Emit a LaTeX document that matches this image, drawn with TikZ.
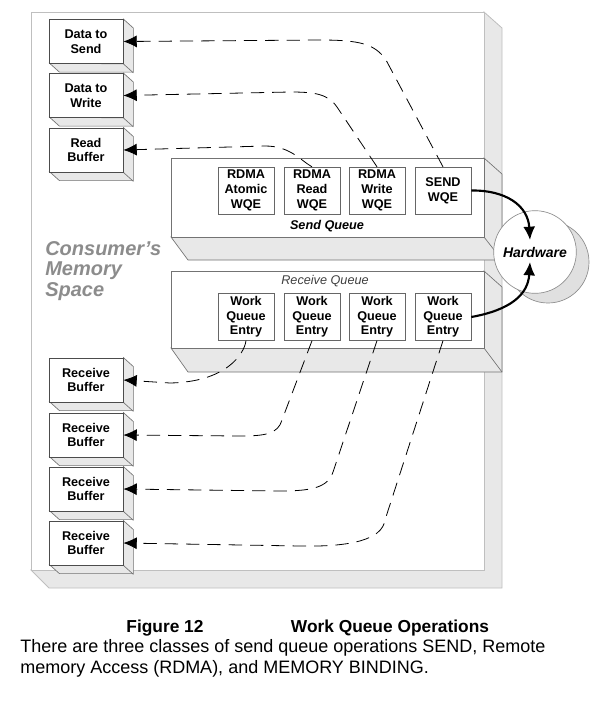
\documentclass[tikz,border=0pt]{standalone}
\usepackage{fontspec}
\setmainfont{Liberation Sans}
\usetikzlibrary{arrows.meta}
\begin{document}
\begin{tikzpicture}[x=0.75pt,y=-0.75pt,
  ext/.style={fill=black!9,draw=black!55,line width=0.5pt},
  extl/.style={fill=black!9,draw=black!25,line width=0.6pt},
  buf/.style={draw=black!70,fill=white,line width=0.6pt,minimum width=55.5pt,minimum height=33pt,inner sep=0pt,align=center,font=\bfseries\fontsize{9.5}{11}\selectfont},
  wqe/.style={draw=black!60,fill=white,line width=0.5pt,minimum width=42pt,minimum height=35pt,inner sep=0pt,align=center,font=\bfseries\fontsize{9.5}{11}\selectfont},
  dsh/.style={dash pattern=on 10pt off 6pt,line width=0.6pt,-{Latex[length=10pt,width=9pt]}},
  hw/.style={line width=1.6pt,-{Latex[length=10pt,width=9pt]}}]
\useasboundingbox (0,0) rectangle (600,704);
% memory space
\draw[extl] (484,12) -- (502,28) -- (502,588) -- (49,588) -- (31,570) -- (484,570) -- cycle;
\draw[draw=black!25,fill=white,line width=0.6pt] (31,12) rectangle (484,570);
\node[font=\bfseries\itshape\fontsize{15}{15.5}\selectfont,text=black!45,align=left,anchor=north west,inner sep=0pt] (cms) at (45,241) {Consumer's\\Memory\\Space};
% buffers
\foreach \n/\y/\t in {ds/41.5/Data to\\Send, dw/95.5/Data to\\Write, rb/150/Read\\Buffer, r1/380/Receive\\Buffer, r2/435/Receive\\Buffer, r3/489/Receive\\Buffer, r4/543/Receive\\Buffer}{
  \path (86,\y) node[buf,draw=none,fill=none] (\n) {};
  \draw[ext] (\n.north east) -- ++(10,9) -- ++(0,44) -- ++(-74,0) -- ++(-10,-9) -- (\n.south east) -- cycle;
  \draw[black!55,line width=0.5pt] (\n.south east) -- ++(10,9);
  \node[buf] at (\n) {\t};
}
% send queue
\draw[ext] (484,158) -- (502,174) -- (502,260) -- (188,260) -- (171,237) -- (484,237) -- cycle;
\draw[black!55,line width=0.5pt] (484,237) -- (502,260);
\draw[draw=black!55,fill=white,line width=0.5pt] (171,158) rectangle (484,237);
\node[font=\bfseries\itshape\fontsize{9.5}{11}\selectfont] (sql) at (327,226) {Send Queue};
\path (246,190.5) node[wqe] (s1) {RDMA\\Atomic\\WQE};
\path (312,190.5) node[wqe] (s2) {RDMA\\Read\\WQE};
\path (377,190.5) node[wqe] (s3) {RDMA\\Write\\WQE};
\path (443,190.5) node[wqe] (s4) {SEND\\WQE};
% receive queue
\draw[ext] (484,271) -- (502,287) -- (502,372) -- (188,372) -- (171,348) -- (484,348) -- cycle;
\draw[black!55,line width=0.5pt] (484,348) -- (502,372);
\draw[draw=black!55,fill=white,line width=0.5pt] (171,271) rectangle (484,348);
\node[font=\itshape\fontsize{9.5}{11}\selectfont,text=black!75] (rql) at (325,281) {Receive Queue};
\path (246,317) node[wqe] (q1) {Work\\Queue\\Entry};
\path (312,317) node[wqe] (q2) {Work\\Queue\\Entry};
\path (377,317) node[wqe] (q3) {Work\\Queue\\Entry};
\path (443,317) node[wqe] (q4) {Work\\Queue\\Entry};
% hardware
\draw[fill=black!12,draw=black!45,line width=0.5pt] (548,262) circle (41);
\node[circle,draw=black!45,fill=white,line width=0.5pt,minimum size=62pt,inner sep=0pt,font=\bfseries\itshape\fontsize{10.5}{12}\selectfont] (hw) at (535,252) {Hardware};
\coordinate (hwt) at (530,240);
\coordinate (hwb) at (530,262);
\draw[hw] (s4.east) .. controls (505,190) and (528,205) .. (hwt);
\draw[hw] (q4.east) .. controls (510,310) and (528,295) .. (hwb);
% dashed
\draw[dsh] (s4.north) -- (386,60) .. controls (375,44) and (360,40) .. (320,40) -- (ds.east);
\draw[dsh] (s3.north) -- (337,107) .. controls (328,94) and (315,92) .. (290,92) -- (dw.east);
\draw[dsh] (s2.north) .. controls (300,160) and (290,146) .. (265,146) -- (rb.east);
\draw[dsh] (q1.south) .. controls (244,355) and (225,382) .. (170,383) -- (r1.east);
\draw[dsh] (q2.south) -- (282,420) .. controls (278,434) and (265,436) .. (240,436) -- (r2.east);
\draw[dsh] (q3.south) -- (333,472) .. controls (328,488) and (310,491) .. (280,491) -- (r3.east);
\draw[dsh] (q4.south) -- (385,520) .. controls (382,540) and (350,547) .. (300,546) -- (r4.east);
% caption
\node[font=\bfseries\fontsize{13}{14}\selectfont] (fig) at (165,628) {Figure 12};
\node[font=\bfseries\fontsize{13}{14}\selectfont] (fti) at (390,628) {Work Queue Operations};
\node[anchor=north west,align=left,inner sep=0pt,font=\fontsize{13.5}{16}\selectfont] (cap) at (20,639) {There are three classes of send queue operations SEND, Remote\\memory Access (RDMA), and MEMORY BINDING.};
\end{tikzpicture}
\end{document}
